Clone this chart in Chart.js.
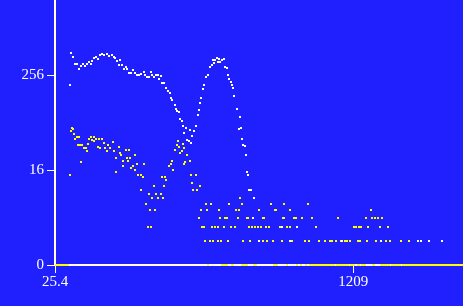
<!DOCTYPE html>
<html><head><meta charset="utf-8">
<script src="https://cdn.jsdelivr.net/npm/chart.js@4/dist/chart.umd.min.js"></script>
<style>html,body{margin:0;padding:0;background:#2020ff;overflow:hidden}</style>
</head><body><canvas id="c" width="463" height="306"></canvas>
<script>
// x range and ticks
const xMin = 25.4, xMax = 1645;
const xTicks = [25.4, 1209];
const xTickLabels = ['25.4', '1209'];
// y axis: counts on a log2 axis (0 drawn at the base)
const yTicks = [0, 16, 256];
const yTickLabels = ['0', '16', '256'];
const yMaxCount = 2290;

// white series
const whiteX = [85,89,97,105,113,121,129,137,144,152,160,168,172,180,188,196,204,212,220,232,240,252,260,263,271,279,283,291,299,307,311,319,327,335,343,351,359,367,379,383,390,398,406,410,418,426,434,438,446,450,458,466,474,482,486,490,502,506,510,517,521,529,533,537,545,549,557,561,565,569,577,585,593,597,601,605,613,617,625,633,640,648,652,656,660,668,672,676,680,688,696,700,708,712,716,724,728,732,736,748,756,760,764,768,771,779,783,787,791,795,803,811,815,835,926,958,986,1164,1319,1466,1478,1510,1561];
const whiteY = [192,486,433,353,353,305,333,353,333,353,374,353,385,421,433,409,459,473,459,473,446,459,433,421,385,343,397,343,305,323,305,271,271,296,271,256,256,264,280,256,241,241,280,256,241,256,256,228,249,203,203,176,161,152,131,124,107,95,90,87,71,67,58,47,55,38,37,51,35,43,50,58,80,92,113,131,170,192,241,256,323,343,397,363,397,421,374,409,374,397,409,323,314,256,228,209,192,176,139,95,53,75,55,40,33,32,25,15,14,9,9,4,7,2,3,2,3,2,2,2,2,2,2];

// yellow series
const yellowX = [85,89,93,97,101,105,113,117,121,125,129,133,141,148,152,156,160,168,172,180,181,188,196,200,204,212,220,224,232,236,244,256,260,267,268,279,283,287,295,296,307,311,315,319,323,327,335,343,344,351,355,367,368,375,379,387,394,398,402,406,410,418,422,426,434,446,450,454,458,462,466,478,486,490,494,502,510,514,517,521,529,533,537,538,541,549,561,565,569,573,585,591,601,
760,
625,644,716,767,882,934,1029,
605,628,676,744,755,835,898,902,958,1279,
597,680,700,708,751,787,791,851,855,930,934,974,982,1005,1045,1148,1259,1283,1295,1307,1323,
609,617,648,660,672,696,724,740,795,807,819,831,843,863,874,918,946,958,1061,1212,1220,1232,1240,1267,1315,1347,
621,640,652,672,684,712,771,799,851,867,890,926,966,1017,1033,1073,1097,1117,1125,1140,1160,1176,1184,1196,1228,1236,1263,1299,1339,1355,1398,1430,
29,37,45,53,61,69,77,632,688,696,704,708,728,732,767,775,783,787,815,823,894,902,906,946,986,1002,1021,1037,1045,1053,1061,1069,1077,1085,1093,1101,1109,1117,1125,1133,1144,1152,1160,1168,1176,1184,1188,1200,1208,1212,1228,1232,1244,1252,1256,1287,1291,1319,1327,1335,1343,1351,1363,1371,1379,1386,1394,1406,1414,1422,1430,1438,1446,1454,1462,1470,1478,1486,1494,1502,1510,1517,1525,1533,1541,1549,1557,1565,1573,1581,1589,1597,1605,1613,1621,1629,1637,1641];
const yellowY = [14,50,55,53,46,40,42,33,42,33,20,33,30,30,28,34,40,42,38,42,37,40,31,40,30,40,35,30,28,33,30,36,28,23,15,31,26,25,21,18,29,23,21,29,23,17,18,25,16,19,14,14,9,13,19,6,3,8,5,3,7,10,5,8,7,8,13,7,10,13,12,18,19,21,16,29,33,37,31,26,28,34,30,19,20,25,21,14,11,9,14,9,10,
7,
6,6,6,6,6,6,6,
5,5,5,5,5,5,5,5,5,5,
4,4,4,4,4,4,4,4,4,4,4,4,4,4,4,4,4,4,4,4,4,
3,3,3,3,3,3,3,3,3,3,3,3,3,3,3,3,3,3,3,3,3,3,3,3,3,3,
2,2,2,2,2,2,2,2,2,2,2,2,2,2,2,2,2,2,2,2,2,2,2,2,2,2,2,2,2,2,2,2,
0,0,0,0,0,0,0,0,0,0,0,0,0,0,0,0,0,0,0,0,0,0,0,0,0,0,0,0,0,0,0,0,0,0,0,0,0,0,0,0,0,0,0,0,0,0,0,0,0,0,0,0,0,0,0,0,0,0,0,0,0,0,0,0,0,0,0,0,0,0,0,0,0,0,0,0,0,0,0,0,0,0,0,0,0,0,0,0,0,0,0,0,0,0,0,0,0];

const BG = '#2020ff';
const toPos = v => v > 0 ? Math.log2(v) : 0;
const pts = (xs, ys) => xs.map((x, i) => ({x: x, y: toPos(ys[i])}));
const font = {family: 'Liberation Serif', size: 15};

const bgPlugin = {id: 'bg', beforeDraw(c) { const g = c.ctx; g.save(); g.fillStyle = BG; g.fillRect(0, 0, c.width, c.height); g.restore(); }};
// snap point centres (computed by the scales) to whole pixels so 2px squares stay crisp
const snapPlugin = {id: 'snap', afterDatasetsUpdate(c) {
  c.data.datasets.forEach((d, i) => c.getDatasetMeta(i).data.forEach(el => { el.x = Math.round(el.x); el.y = Math.round(el.y); }));
}};

new Chart(document.getElementById('c'), {
  type: 'scatter',
  data: {datasets: [
    {label: 'white', data: pts(whiteX, whiteY), backgroundColor: '#ffffff', borderWidth: 0, pointStyle: 'rect', pointRadius: 1.42, clip: false},
    {label: 'yellow', data: pts(yellowX, yellowY), backgroundColor: '#ffff00', borderWidth: 0, pointStyle: 'rect', pointRadius: 1.42, clip: false}
  ]},
  options: {
    responsive: false, animation: false, devicePixelRatio: 1,
    layout: {padding: 0, autoPadding: false},
    events: [],
    plugins: {legend: {display: false}, tooltip: {enabled: false}},
    scales: {
      x: {
        type: 'linear', min: xMin, max: xMax,
        border: {color: '#ffffff', width: 2},
        grid: {drawOnChartArea: false, color: '#ffffff', tickLength: 8, lineWidth: 1},
        ticks: {color: '#ffffff', font: font, padding: 0, maxRotation: 0, autoSkip: false,
                callback: (v, i) => xTickLabels[i]},
        afterBuildTicks: s => { s.ticks = xTicks.map(v => ({value: v})); },
        afterFit: s => { s.height = 41; s.paddingLeft = 0; s.paddingRight = 0; }
      },
      y: {
        type: 'linear', min: 0, max: toPos(yMaxCount),
        border: {color: '#ffffff', width: 2},
        grid: {drawOnChartArea: false, color: '#ffffff', tickLength: 8, lineWidth: 1},
        ticks: {color: '#ffffff', font: font, padding: 3, autoSkip: false,
                callback: (v, i) => yTickLabels[i]},
        afterBuildTicks: s => { s.ticks = yTicks.map(v => ({value: toPos(v)})); },
        afterFit: s => { s.width = 55; s.paddingTop = 0; s.paddingBottom = 0; }
      }
    }
  },
  plugins: [bgPlugin, snapPlugin]
});
</script>
</body></html>
